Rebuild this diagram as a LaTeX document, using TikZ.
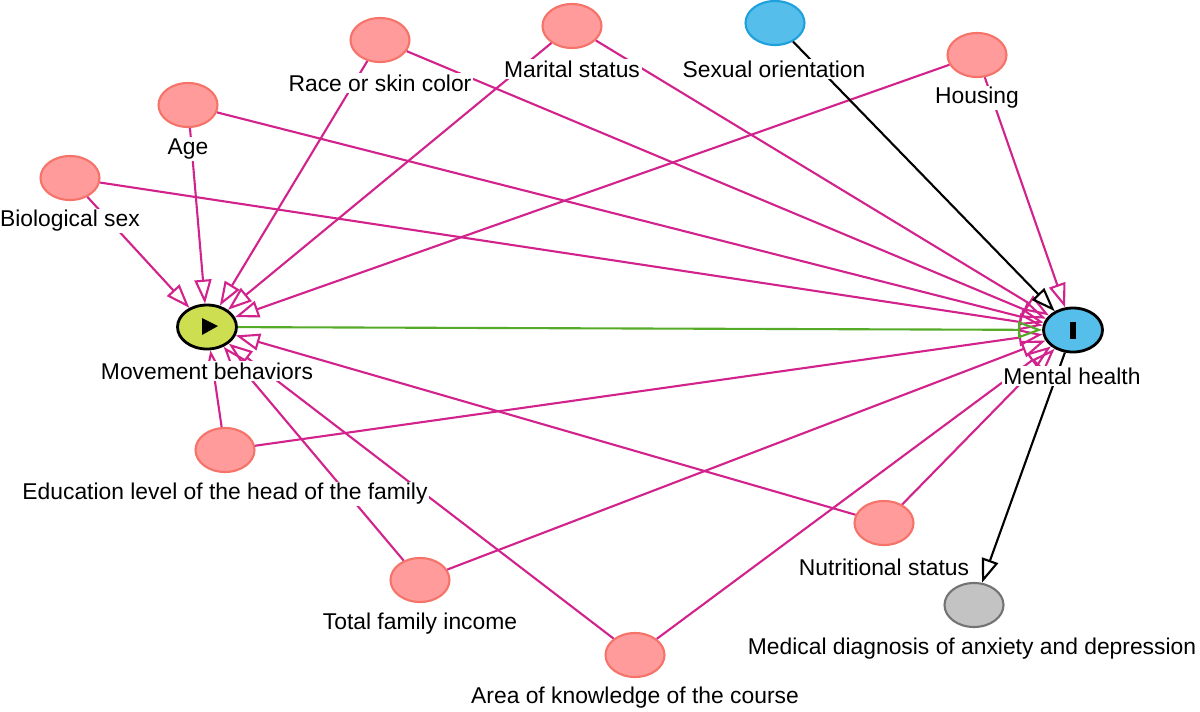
\documentclass[tikz,border=0pt]{standalone}
\usepackage{fontspec}
\setmainfont{Liberation Sans}
\usetikzlibrary{shapes.geometric, arrows.meta}

\definecolor{covfill}{RGB}{255,155,155}
\definecolor{covline}{RGB}{245,115,105}
\definecolor{expfill}{RGB}{205,222,80}
\definecolor{outfill}{RGB}{85,190,235}
\definecolor{outline}{RGB}{30,160,220}
\definecolor{grayfill}{RGB}{195,195,195}
\definecolor{grayline}{RGB}{115,115,115}
\definecolor{biasline}{RGB}{210,35,140}
\definecolor{causline}{RGB}{85,170,40}

\begin{document}
\begin{tikzpicture}[x=0.02cm, y=-0.02cm,
		var/.style={ellipse, minimum width=1.18cm, minimum height=0.88cm, inner sep=0pt, line width=1.2pt},
		cov/.style={var, fill=covfill, draw=covline},
		lbl/.style={fill=white, inner sep=1pt, font=\fontsize{13}{15}\selectfont},
		bias/.style={draw=biasline, line width=1.2pt, -{Triangle[open, length=4.8mm, width=3.4mm]}},
		caus/.style={draw=causline, line width=1.2pt, -{Triangle[open, length=4.8mm, width=3.4mm]}},
		plain/.style={draw=black, line width=1.2pt, -{Triangle[open, length=4.8mm, width=3.4mm]}}]
	\useasboundingbox (0,0) rectangle (1200,711);
	
	\node[cov] (race) at (380,40) {};
	\node[cov] (marital) at (572,26) {};
	\node[var, fill=outfill, draw=outline] (sexor) at (775,23) {};
	\node[cov] (housing) at (977,55) {};
	\node[cov] (age) at (188,105) {};
	\node[cov] (sex) at (70,178) {};
	\node[var, fill=expfill, draw=black, line width=1.6pt] (mb) at (207,327) {};
	\node[var, fill=outfill, draw=black, line width=1.6pt] (mh) at (1073,330) {};
	\node[cov] (edu) at (225,450) {};
	\node[cov] (income) at (420,580) {};
	\node[cov] (area) at (635,655) {};
	\node[cov] (nutri) at (884,523) {};
	\node[var, fill=grayfill, draw=grayline] (diag) at (974,605) {};
	
	\fill[black] (202,318) -- (202,335) -- (218,326) -- cycle;
	\fill[black] (1070,322) rectangle (1076,339);
	
	\draw[bias] (race) -- (mb);
	\draw[bias] (race) -- (mh);
	\draw[bias] (marital) -- (mb);
	\draw[bias] (marital) -- (mh);
	\draw[bias] (housing) -- (mb);
	\draw[bias] (housing) -- (mh);
	\draw[bias] (age) -- (mb);
	\draw[bias] (age) -- (mh);
	\draw[bias] (sex) -- (mb);
	\draw[bias] (sex) -- (mh);
	\draw[bias] (edu) -- (mb);
	\draw[bias] (edu) -- (mh);
	\draw[bias] (income) -- (mb);
	\draw[bias] (income) -- (mh);
	\draw[bias] (area) -- (mb);
	\draw[bias] (area) -- (mh);
	\draw[bias] (nutri) -- (mb);
	\draw[bias] (nutri) -- (mh);
	\draw[caus] (mb) -- (mh);
	\draw[plain] (sexor) -- (mh);
	\draw[plain] (mh) -- (diag);
	
	\node[lbl] (raceL) at (380,83) {Race or skin color};
	\node[lbl] (maritalL) at (572,69) {Marital status};
	\node[lbl] (sexorL) at (774,69) {Sexual orientation};
	\node[lbl] (housingL) at (977,98) {Housing};
	\node[lbl] (ageL) at (188,149) {Age};
	\node[lbl] (sexL) at (70,221) {Biological sex};
	\node[lbl] (mbL) at (207,371) {Movement behaviors};
	\node[lbl] (mhL) at (1072,376) {Mental health};
	\node[lbl] (eduL) at (225,494) {Education level of the head of the family};
	\node[lbl] (incomeL) at (420,624) {Total family income};
	\node[lbl] (areaL) at (635,698) {Area of knowledge of the course};
	\node[lbl] (nutriL) at (884,567) {Nutritional status};
	\node[lbl] (diagL) at (972,649) {Medical diagnosis of anxiety and depression};
\end{tikzpicture}
\end{document}
